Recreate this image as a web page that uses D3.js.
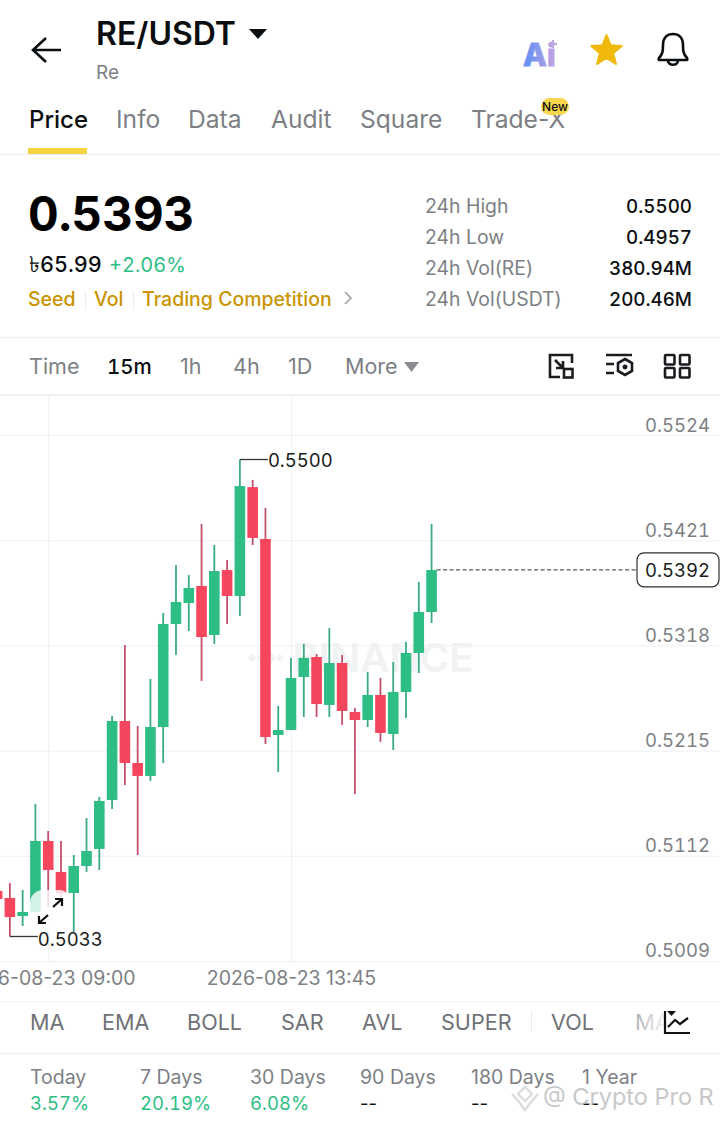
<!DOCTYPE html>
<html>
<head>
<meta charset="utf-8">
<script src="https://cdn.jsdelivr.net/npm/d3@7"></script>
<style>
  html, body { margin: 0; padding: 0; background: #fff; }
  svg { display: block; }
  text { font-family: Inter, "Noto Sans", sans-serif; }
</style>
</head>
<body>
<svg id="chart"></svg>
<script>
// 15m candles, oldest first (first one is clipped by the left edge)
const opens  = [0.50776,0.50707,0.5053,0.5057,0.51265,0.50962,0.50756,0.5102,0.51187,0.51667,0.5244,0.52029,0.51902,0.52381,0.5339,0.53595,0.53762,0.53282,0.53918,0.53664,0.5473,0.54222,0.52303,0.52352,0.52871,0.53067,0.52597,0.53008,0.52528,0.5245,0.52695,0.52313,0.52724,0.53106,0.53507];
const highs  = [0.50854,0.50854,0.50786,0.51627,0.51363,0.51265,0.51128,0.5149,0.51696,0.52489,0.53184,0.52391,0.52851,0.53497,0.53967,0.53869,0.54369,0.54163,0.54016,0.5500,0.5480,0.54525,0.52587,0.53057,0.53194,0.53096,0.5335,0.53086,0.52567,0.5292,0.52861,0.53018,0.53213,0.53801,0.54369];
const lows   = [0.50639,0.5033,0.50433,0.5057,0.50619,0.50717,0.50374,0.50962,0.50981,0.51579,0.51813,0.51128,0.51853,0.52029,0.53086,0.53321,0.52832,0.53194,0.5339,0.53468,0.54163,0.52215,0.51941,0.52352,0.52479,0.52479,0.52479,0.52401,0.51725,0.52381,0.52234,0.52156,0.52469,0.5291,0.53399];
const closes = [0.50697,0.5052,0.5057,0.51265,0.50981,0.50756,0.5102,0.51167,0.51657,0.5244,0.52029,0.51902,0.52381,0.5339,0.53605,0.53742,0.53262,0.53908,0.53664,0.5474,0.54232,0.52283,0.52352,0.52861,0.53057,0.52606,0.53008,0.52538,0.5245,0.52695,0.52323,0.52724,0.53106,0.53507,0.53918];

const startTime = new Date(Date.UTC(2026, 7, 23, 8, 0));
const priceTicks = [0.5524, 0.5421, 0.5318, 0.5215, 0.5112, 0.5009];
const timeTicks = [new Date(Date.UTC(2026, 7, 23, 9, 0)), new Date(Date.UTC(2026, 7, 23, 13, 45))];
const lastPrice = 0.5392;

const tabs = ["Price", "Info", "Data", "Audit", "Square", "Trade-X"];
const tabX = [29, 116, 188, 271, 360, 471];
const statNames = ["24h High", "24h Low", "24h Vol(RE)", "24h Vol(USDT)"];
const statValues = ["0.5500", "0.4957", "380.94M", "200.46M"];
const intervals = ["Time", "15m", "1h", "4h", "1D", "More"];
const intervalX = [29, 107, 180, 233, 288, 345];
const indicators = ["MA", "EMA", "BOLL", "SAR", "AVL", "SUPER", "VOL"];
const indicatorX = [30, 102, 187, 281, 362, 441, 551];
const periods = ["Today", "7 Days", "30 Days", "90 Days", "180 Days", "1 Year"];
const periodValues = ["3.57%", "20.19%", "6.08%", "--", "--", "--"];
const periodX = [30, 140, 250, 360, 471, 582];

const WIDTH = 720, HEIGHT = 1121;
const GREEN = "#2ebd85", RED = "#f6465d", GREY = "#7d7f85", INK = "#0b0e11", LINE = "#eaecef", GOLD = "#c99400";

const svg = d3.select("#chart").attr("width", WIDTH).attr("height", HEIGHT);

function label(parent, str, x, y, size, fill, weight, anchor) {
  return parent.append("text")
    .attr("x", x).attr("y", y)
    .attr("font-size", size)
    .attr("fill", fill || INK)
    .attr("font-weight", weight || 400)
    .attr("text-anchor", anchor || "start")
    // plain numbers use even-width digits, hyphens keep their natural width
    .style("font-variant-numeric", /^[৳+]?[\d.]+[%Mm]?$/.test(str) ? "tabular-nums" : "normal")
    .text(str);
}
function hline(y, w, color) {
  svg.append("rect").attr("x", 0).attr("y", y).attr("width", WIDTH).attr("height", w).attr("fill", color || LINE);
}

// --- header ---
svg.append("path").attr("d", "M61 50H34M46 38L33 50L46 62").attr("fill", "none").attr("stroke", INK).attr("stroke-width", 2.6);
label(svg, "RE/USDT", 96, 45, 32, INK, 600);
svg.append("path").attr("d", "M249 29H267L258 39Z").attr("fill", INK);
label(svg, "Re", 96, 79, 19, GREY);

// Ai icon
const defs = svg.append("defs");
const grad = defs.append("linearGradient").attr("id", "aiGrad");
grad.append("stop").attr("offset", "0").attr("stop-color", "#5b8df5");
grad.append("stop").attr("offset", "1").attr("stop-color", "#c3a5e0");
label(svg, "Ai", 523, 66, 31, "url(#aiGrad)", 800).attr("stroke", "url(#aiGrad)").attr("stroke-width", 0.8);
svg.append("path").attr("d", "M553 40v8M549 44h8").attr("stroke", "#c3a5e0").attr("stroke-width", 2);
// star
svg.append("path")
  .attr("d", d3.line()(d3.range(10).map(i => {
    const r = i % 2 ? 7 : 16, a = -Math.PI / 2 + i * Math.PI / 5;
    return [606.5 + r * Math.cos(a), 51 + r * Math.sin(a)];
  })) + "Z")
  .attr("fill", "#f0b90b").attr("stroke", "#f0b90b").attr("stroke-width", 2).attr("stroke-linejoin", "round");
// bell
svg.append("path")
  .attr("d", "M659 58C663 54 663 50 663 45C663 38 667 34 673 34C679 34 683 38 683 45C683 50 683 54 687 58C688 60 687 60 686 60H660C659 60 658 60 659 58ZM668 61C669 66 677 66 678 61")
  .attr("fill", "none").attr("stroke", INK).attr("stroke-width", 2.6);

tabs.forEach((t, i) => label(svg, t, tabX[i], 128, i === 0 ? 24 : 24.6, i === 0 ? INK : GREY, i === 0 ? 500 : 400));
svg.append("rect").attr("x", 28).attr("y", 148).attr("width", 59).attr("height", 6).attr("fill", "#f5d442");
svg.append("rect").attr("x", 541).attr("y", 98).attr("width", 28).attr("height", 17).attr("rx", 8.5).attr("fill", "#f8d64e");
label(svg, "New", 555, 111, 12, INK, 500, "middle");
hline(154, 1);

// --- price summary ---
label(svg, "0.5393", 28, 231, 47.5, "#000", 700);
label(svg, "৳65.99", 29, 272, 21.6, INK, 500);
label(svg, "+2.06%", 109, 272, 20, GREEN, 400);
label(svg, "Seed", 28, 306, 19.5, GOLD, 500);
label(svg, "Vol", 94, 306, 19.5, GOLD, 500);
label(svg, "Trading Competition", 142, 306, 19.5, GOLD, 500);
[85, 133].forEach(x => svg.append("rect").attr("x", x).attr("y", 292).attr("width", 1).attr("height", 18).attr("fill", LINE));
svg.append("path").attr("d", "M345 292L351 298L345 304").attr("fill", "none").attr("stroke", "#9a9ca1").attr("stroke-width", 1.5);
statNames.forEach((s, i) => {
  const y = 213 + i * 31;
  label(svg, s, 425, y, 19.4, GREY);
  label(svg, statValues[i], 692, y, 18.8, INK, 500, "end");
});
hline(337, 1);

// --- interval row ---
intervals.forEach((t, i) => label(svg, t, intervalX[i], 374, i === 1 ? 20.5 : 21.5, i === 1 ? INK : GREY, i === 1 ? 500 : 400));
svg.append("path").attr("d", "M404 362H419L411.5 372Z").attr("fill", "#8a8c91");
const icons = svg.append("g").attr("fill", "none").attr("stroke", "#1a1c20").attr("stroke-width", 2.6);
icons.append("path").attr("d", "M572 363V355H550V377H560M555 360L563 368M563 361V368H556");
icons.append("rect").attr("x", 564).attr("y", 369).attr("width", 8.5).attr("height", 8.5);
icons.append("path").attr("d", "M606 355H632M606 364H614M606 373H614");
icons.append("path").attr("d", "M625 359L632 363V371L625 375L618 371V363Z");
icons.append("circle").attr("cx", 625).attr("cy", 367).attr("r", 1.2);
[[665, 355], [680, 355], [665, 368], [680, 368]].forEach(p =>
  icons.append("rect").attr("x", p[0]).attr("y", p[1]).attr("width", 9.5).attr("height", 9.5).attr("rx", 1));
hline(394, 2, "#f0f1f3");

// --- chart ---
const candles = opens.map((o, i) => ({
  time: d3.utcMinute.offset(startTime, i * 15),
  open: o, high: highs[i], low: lows[i], close: closes[i]
}));

const xScale = d3.scaleUtc().domain(timeTicks).range([48.2, 291]);
const yScale = d3.scaleLinear().domain([priceTicks[0], priceTicks[5]]).range([435, 961]);
const fmtTime = d3.utcFormat("%Y-%m-%d %H:%M");

// y axis draws the horizontal grid and the price labels
const yAxis = svg.append("g")
  .call(d3.axisRight(yScale).tickValues(priceTicks).tickSize(WIDTH).tickFormat(d3.format(".4f")));
yAxis.select(".domain").remove();
yAxis.selectAll("line").attr("stroke", "#eef0f2");
yAxis.selectAll("text")
  .attr("x", 710).attr("dy", 0).attr("y", (d, i) => i === 5 ? -5 : -4)
  .attr("text-anchor", "end").attr("font-size", 18.5).attr("fill", GREY)
  .style("font-family", "Inter, sans-serif").style("font-variant-numeric", "tabular-nums");

// x axis draws the vertical grid and the time labels
const xAxis = svg.append("g")
  .attr("transform", "translate(0,961)")
  .call(d3.axisBottom(xScale).tickValues(timeTicks).tickSizeInner(-566).tickSizeOuter(0).tickFormat(fmtTime));
xAxis.select(".domain").remove();
xAxis.selectAll("line").attr("stroke", "#eef0f2");
xAxis.selectAll("text")
  .attr("y", 24).attr("dy", 0).attr("font-size", 19.5).attr("fill", GREY)
  .style("font-family", "Inter, sans-serif");

// watermark
const mark = svg.append("g").attr("fill", "#f1f2f3");
label(mark, "BINANCE", 383, 672, 40, "#f1f2f3", 600, "middle");
[[266, 658, 7], [252, 658, 3], [280, 658, 3], [266, 644, 3], [266, 672, 3]].forEach(d =>
  mark.append("rect").attr("x", d[0] - d[2]).attr("y", d[1] - d[2]).attr("width", 2 * d[2]).attr("height", 2 * d[2])
    .attr("transform", `rotate(45 ${d[0]} ${d[1]})`));

const isUp = d => d.close >= d.open;
const candle = svg.append("g").selectAll("g").data(candles).enter().append("g");
candle.append("line")
  .attr("x1", d => xScale(d.time)).attr("x2", d => xScale(d.time))
  .attr("y1", d => yScale(d.high)).attr("y2", d => yScale(d.low))
  .attr("stroke", d => isUp(d) ? "#3aaa85" : "#c2506c").attr("stroke-width", 1.8);
candle.append("rect")
  .attr("x", d => xScale(d.time) - 5.3).attr("width", 10.6)
  .attr("y", d => yScale(Math.max(d.open, d.close)))
  .attr("height", d => Math.max(yScale(Math.min(d.open, d.close)) - yScale(Math.max(d.open, d.close)), 1.5))
  .attr("fill", d => isUp(d) ? GREEN : RED);

// session high / low callouts
const hi = candles[d3.greatestIndex(highs)], lo = candles[d3.leastIndex(lows)];
[[hi, hi.high, 7], [lo, lo.low, 9.5]].forEach(c => {
  const x0 = xScale(c[0].time), y0 = yScale(c[1]);
  svg.append("line").attr("x1", x0).attr("x2", x0 + 28).attr("y1", y0).attr("y2", y0).attr("stroke", "#33363a").attr("stroke-width", 1.3);
  label(svg, c[1].toFixed(4), x0 + 28, y0 + c[2], 18.5, "#1a1c20");
});

// last price
const lastX = xScale(candles[candles.length - 1].time) + 5, lastY = yScale(lastPrice);
svg.append("line").attr("x1", lastX).attr("x2", 637).attr("y1", lastY).attr("y2", lastY)
  .attr("stroke", "#55585d").attr("stroke-width", 1.2).attr("stroke-dasharray", "4 2.5");
svg.append("rect").attr("x", 637).attr("y", lastY - 17).attr("width", 82).attr("height", 34).attr("rx", 7)
  .attr("fill", "#fff").attr("stroke", "#2b2f36").attr("stroke-width", 1.2);
label(svg, lastPrice.toFixed(4), 710, lastY + 7, 18.5, "#1a1c20", 400, "end");

// fullscreen button over the chart
svg.append("rect").attr("x", 30).attr("y", 890).attr("width", 42).attr("height", 42).attr("rx", 13).attr("fill", "#fff").attr("fill-opacity", 0.8);
svg.append("path").attr("d", "M53 907L62 899M55 899H62V906M48 915L39 923M39 916V923H46")
  .attr("fill", "none").attr("stroke", "#111").attr("stroke-width", 2.2);

// --- indicators row ---
hline(1001, 1, "#f2f3f5");
indicators.forEach((t, i) => label(svg, t, indicatorX[i], 1030, 21.6, "#6f7177"));
svg.append("rect").attr("x", 531).attr("y", 1010).attr("width", 1).attr("height", 22).attr("fill", LINE);
const fade = defs.append("linearGradient").attr("id", "maFade");
fade.append("stop").attr("offset", "0").attr("stop-color", "#b0b2b6");
fade.append("stop").attr("offset", "1").attr("stop-color", "#fff");
label(svg, "MA", 635, 1030, 22, "url(#maFade)");
svg.append("path").attr("d", "M665 1011V1033H690").attr("fill", "none").attr("stroke", "#111").attr("stroke-width", 2.2);
svg.append("path").attr("d", "M668 1027L675 1020L680 1024L688 1018").attr("fill", "none").attr("stroke", "#111").attr("stroke-width", 2.2);
svg.append("path").attr("d", "M667 1011H676L671.5 1016Z").attr("fill", "#111");
hline(1053, 1);

// --- period returns ---
periods.forEach((t, i) => {
  label(svg, t, periodX[i], 1084, 19.5, GREY);
  label(svg, periodValues[i], periodX[i], 1110, 18.5, periodValues[i] === "--" ? INK : GREEN);
});

// repost watermark
const wm = svg.append("g").attr("opacity", 0.75);
wm.append("path").attr("d", "M525 1087L532 1094L525 1101L518 1094Z M512 1094L519 1102L525 1110L531 1102L538 1094")
  .attr("fill", "none").attr("stroke", "#cfd1d4").attr("stroke-width", 2.4);
label(wm, "@ Crypto Pro R", 543, 1105, 23.5, "#b4b6b9");
</script>
</body>
</html>
